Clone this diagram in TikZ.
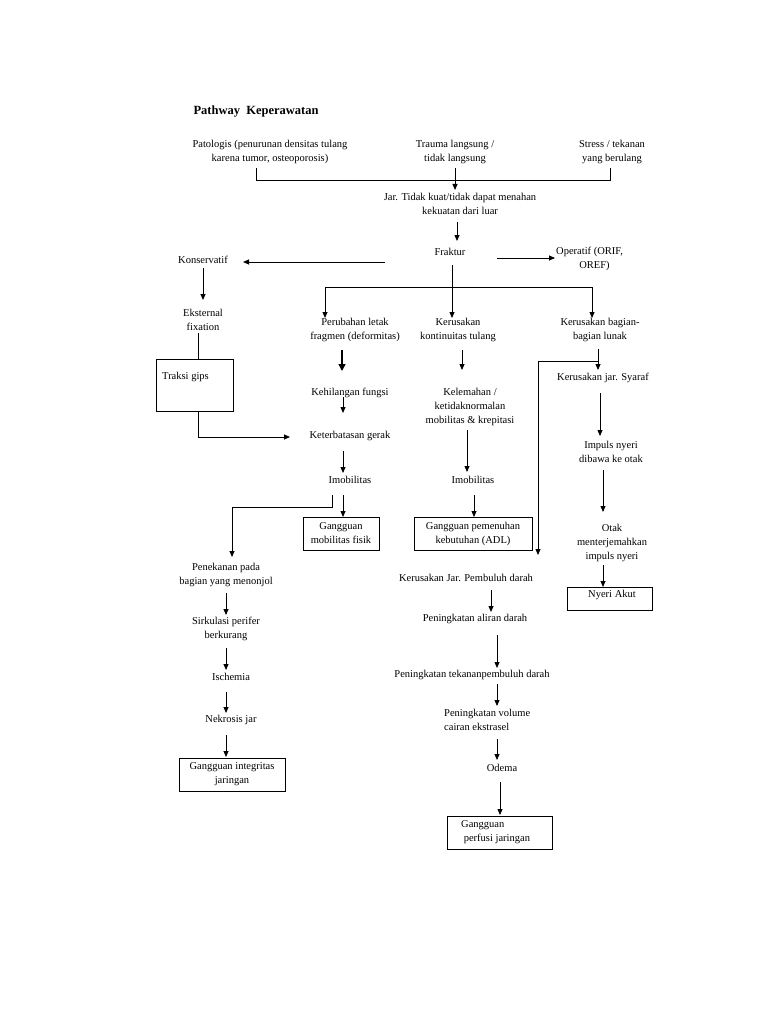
\documentclass[tikz,border=0pt]{standalone}
\usepackage{fontspec}
\setmainfont{Liberation Serif}
\usetikzlibrary{arrows.meta}
\begin{document}
\begin{tikzpicture}[x=1pt,y=-1pt,
  t/.style={font=\fontsize{10.5}{14}\selectfont,align=center,inner sep=0pt},
  tl/.style={t,align=left},
  bx/.style={draw,line width=0.8pt},
  ar/.style={-{Triangle[length=6pt,width=5pt]},line width=0.8pt},
  ln/.style={line width=0.8pt}]
\useasboundingbox (0,0) rectangle (768,1024);
\node[t,font=\fontsize{12.5}{15}\bfseries] (title) at (256,112) {Pathway\ \ Keperawatan};
\node[t] (pat) at (270,152) {Patologis (penurunan densitas tulang\\karena tumor, osteoporosis)};
\node[t] (tra) at (455,152) {Trauma langsung /\\tidak langsung};
\node[t] (str) at (612,152) {Stress / tekanan\\yang berulang};
\draw[ln] (256,168) -- (256,180) -- (610,180) -- (610,168);
\draw[ar] (455,168) -- (455,190);
\node[t] (jar) at (460,204) {Jar. Tidak kuat/tidak dapat menahan\\kekuatan dari luar};
\draw[ar] (457,222) -- (457,241);
\node[t] (fra) at (450,252) {Fraktur};
\draw[ar] (385,262) -- (243,262);
\node[t] (kon) at (203,260) {Konservatif};
\draw[ar] (497,258) -- (555,258);
\node[tl,anchor=west] (ope) at (556,259) {Operatif (ORIF,\\\hspace*{2.2em}OREF)};
\draw[ar] (452,265) -- (452,318);
\draw[ln] (325,287) -- (592,287);
\draw[ar] (325,287) -- (325,318);
\draw[ar] (592,287) -- (592,318);
\draw[ar] (203,268) -- (203,300);
\node[t] (eks) at (203,320) {Eksternal\\fixation};
\draw[ln] (198,333) -- (198,359);
\node[bx,minimum width=77pt,minimum height=52pt,inner sep=0pt] (trk) at (194.5,385) {};
\node[t,anchor=west] at (162,377) {Traksi gips};
\draw[ar] (198,411) -- (198,437) -- (290,437);
\node[t] (per) at (355,330) {Perubahan letak\\fragmen (deformitas)};
\draw[-{Triangle[length=7pt,width=7pt]},line width=1.4pt] (342,350) -- (342,371);
\node[t] (keh) at (350,393) {Kehilangan fungsi};
\draw[ar] (343,397) -- (343,413);
\node[t] (ket) at (350,436) {Keterbatasan gerak};
\draw[ar] (343,451) -- (343,473);
\node[t] (imo1) at (350,480) {Imobilitas};
\draw[ar] (343,495) -- (343,517);
\node[t,bx,minimum width=76pt,minimum height=33pt] (gmf) at (341,533.5) {Gangguan\\mobilitas fisik};
\draw[ar] (332,495) -- (332,507) -- (232,507) -- (232,557);
\node[t] (pen) at (226,575) {Penekanan pada\\bagian yang menonjol};
\draw[ar] (226,593) -- (226,615);
\node[t] (sir) at (226,629) {Sirkulasi perifer\\berkurang};
\draw[ar] (226,648) -- (226,670);
\node[t] (isc) at (231,677) {Ischemia};
\draw[ar] (226,692) -- (226,713);
\node[t] (nek) at (231,720) {Nekrosis jar};
\draw[ar] (226,735) -- (226,757);
\node[t,bx,minimum width=106pt,minimum height=33pt] (gij) at (232,774.5) {Gangguan integritas\\jaringan};
\node[t] (kkt) at (458,330) {Kerusakan\\kontinuitas tulang};
\draw[ar] (462,350) -- (462,370);
\node[t] (kel) at (470,407) {Kelemahan /\\ketidaknormalan\\mobilitas \& krepitasi};
\draw[ar] (467,430) -- (467,472);
\node[t] (imo2) at (473,480) {Imobilitas};
\draw[ar] (474,495) -- (474,517);
\node[t,bx,minimum width=118pt,minimum height=33pt] (adl) at (473,533.5) {Gangguan pemenuhan\\kebutuhan (ADL)};
\node[t] (kbl) at (600,330) {Kerusakan bagian-\\bagian lunak};
\draw[ar] (598,349) -- (598,370);
\draw[ar] (598,361) -- (538,361) -- (538,555);
\node[t] (kjs) at (603,378) {Kerusakan jar. Syaraf};
\draw[ar] (600,393) -- (600,436);
\node[t] (imp) at (611,452) {Impuls nyeri\\dibawa ke otak};
\draw[ar] (603,470) -- (603,512);
\node[t] (otk) at (612,543) {Otak\\menterjemahkan\\impuls nyeri};
\draw[ar] (603,565) -- (603,587);
\node[t,bx,minimum width=85pt,minimum height=23pt] (nye) at (609.5,598.5) {};
\node[t] at (612,595) {Nyeri Akut};
\node[t] (kpd) at (466,578) {Kerusakan Jar. Pembuluh darah};
\draw[ar] (491,590) -- (491,612);
\node[t] (pad) at (475,619) {Peningkatan aliran darah};
\draw[ar] (497,635) -- (497,668);
\node[t] (ptd) at (472,675) {Peningkatan tekananpembuluh darah};
\draw[ar] (497,684) -- (497,706);
\node[tl,anchor=west] (pvc) at (444,720) {Peningkatan volume\\cairan ekstrasel};
\draw[ar] (497,739) -- (497,760);
\node[t] (ode) at (502,768) {Odema};
\draw[ar] (500,782) -- (500,815);
\node[bx,minimum width=105pt,minimum height=33pt] (gpj) at (499.5,832.5) {};
\node[tl,anchor=west] at (461,832) {Gangguan\\\ perfusi jaringan};
\end{tikzpicture}
\end{document}
